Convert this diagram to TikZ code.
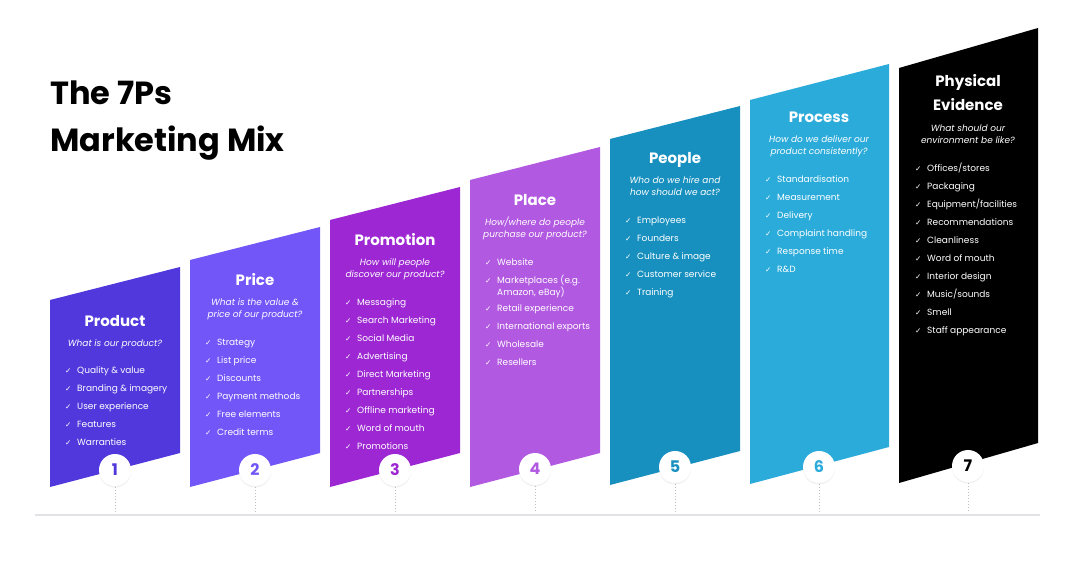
\documentclass[tikz,border=0pt]{standalone}
\usepackage{fontspec}
\setmainfont{Poppins}
\newfontfamily\checkfont{DejaVu Sans}
\usetikzlibrary{shadows}
\definecolor{mixproduct}{HTML}{5038DC}
\definecolor{mixprice}{HTML}{7256F8}
\definecolor{mixpromo}{HTML}{9C27D3}
\definecolor{mixplace}{HTML}{B259E1}
\definecolor{mixpeople}{HTML}{1790BF}
\definecolor{mixprocess}{HTML}{2BABDA}
\definecolor{mixevidence}{HTML}{000000}
\definecolor{mixground}{HTML}{E2E2E6}
\newcommand{\ck}{\makebox[12pt][l]{\checkfont\fontsize{7.5}{7.5}\selectfont ✓}}

\begin{document}
\begin{tikzpicture}[
  x=1pt,
  y=-1pt,
  every node/.style={inner sep=0pt},
  % multi-line nodes: the base anchor sits on the LAST line
  headline/.style={font=\fontsize{32}{47}\selectfont\bfseries, text=black,
                   align=left, anchor=base west},
  ptitle/.style={font=\fontsize{15}{24}\selectfont\bfseries, text=white,
                 align=center, anchor=base},
  pquestion/.style={font=\fontsize{9}{12}\selectfont\itshape, text=white,
                    align=center, anchor=base},
  plist/.style={font=\fontsize{9}{12}\selectfont, text=white,
                align=left, anchor=base west},
  numdot/.style={circle, fill=white, minimum size=32pt,
                 font=\fontsize{16}{16}\selectfont\bfseries,
                 drop shadow={opacity=0.12, shadow xshift=0pt, shadow yshift=-1.5pt}},
  stem/.style={draw=black!25, line width=1pt, dotted},
  ground/.style={draw=mixground, line width=2pt}
]
  \useasboundingbox (0,0) rectangle (1083,560);

  % ---- ground line ----
  \draw[ground] (35,515) -- (1040,515);

  % ---- the seven slanted panels ----
  \foreach \l/\r/\tl/\tr/\bl/\br/\c in {
      50/180/300/267/487/453/mixproduct,
      190/320/260/227/487/453/mixprice,
      330/460/220/187/487/453/mixpromo,
      470/600/180/147/487/453/mixplace,
      610/740/139/106/485/451/mixpeople,
      750/889/100/64/484/447/mixprocess,
      899/1038/68/28/483/443/mixevidence}
    \fill[\c] (\l,\tl) -- (\r,\tr) -- (\r,\br) -- (\l,\bl) -- cycle;

  % ---- heading ----
  \node[headline] (heading) at (50,151) {The 7Ps\\Marketing Mix};

  % ---- 1 product ----
  \node[ptitle] (t1) at (115,326) {Product};
  \node[pquestion] (q1) at (115,346) {What is our product?};
  \node[plist] (l1) at (65,445) {\ck Quality \& value\\[6pt]\ck Branding \& imagery\\[6pt]%
    \ck User experience\\[6pt]\ck Features\\[6pt]\ck Warranties};

  % ---- 2 price ----
  \node[ptitle] (t2) at (255,285) {Price};
  \node[pquestion] (q2) at (255,317) {What is the value \&\\price of our product?};
  \node[plist] (l2) at (205,435) {\ck Strategy\\[6pt]\ck List price\\[6pt]\ck Discounts\\[6pt]%
    \ck Payment methods\\[6pt]\ck Free elements\\[6pt]\ck Credit terms};

  % ---- 3 promotion ----
  \node[ptitle] (t3) at (395,245) {Promotion};
  \node[pquestion] (q3) at (395,277) {How will people\\discover our product?};
  \node[plist] (l3) at (345,449) {\ck Messaging\\[6pt]\ck Search Marketing\\[6pt]%
    \ck Social Media\\[6pt]\ck Advertising\\[6pt]\ck Direct Marketing\\[6pt]%
    \ck Partnerships\\[6pt]\ck Offline marketing\\[6pt]\ck Word of mouth\\[6pt]\ck Promotions};

  % ---- 4 place ----
  \node[ptitle] (t4) at (535,205) {Place};
  \node[pquestion] (q4) at (535,237) {How/where do people\\purchase our product?};
  \node[plist] (l4) at (485,365) {\ck Website\\[6pt]\ck Marketplaces (e.g.\\%
    \phantom{\ck}Amazon, eBay)\\[4pt]\ck Retail experience\\[6pt]%
    \ck International exports\\[6pt]\ck Wholesale\\[6pt]\ck Resellers};

  % ---- 5 people ----
  \node[ptitle] (t5) at (675,163) {People};
  \node[pquestion] (q5) at (675,195) {Who do we hire and\\how should we act?};
  \node[plist] (l5) at (625,295) {\ck Employees\\[6pt]\ck Founders\\[6pt]%
    \ck Culture \& image\\[6pt]\ck Customer service\\[6pt]\ck Training};

  % ---- 6 process ----
  \node[ptitle] (t6) at (819,122) {Process};
  \node[pquestion] (q6) at (819,154) {How do we deliver our\\product consistently?};
  \node[plist] (l6) at (765,272) {\ck Standardisation\\[6pt]\ck Measurement\\[6pt]%
    \ck Delivery\\[6pt]\ck Complaint handling\\[6pt]\ck Response time\\[6pt]\ck R\&D};

  % ---- 7 physical evidence ----
  \node[ptitle] (t7) at (968,110) {Physical\\Evidence};
  \node[pquestion] (q7) at (968,143) {What should our\\environment be like?};
  \node[plist] (l7) at (915,333) {\ck Offices/stores\\[6pt]\ck Packaging\\[6pt]%
    \ck Equipment/facilities\\[6pt]\ck Recommendations\\[6pt]\ck Cleanliness\\[6pt]%
    \ck Word of mouth\\[6pt]\ck Interior design\\[6pt]\ck Music/sounds\\[6pt]%
    \ck Smell\\[6pt]\ck Staff appearance};

  % ---- numbered markers with dotted stems to the ground line ----
  \foreach \x/\y/\n/\c in {115/470/1/mixproduct, 255/470/2/mixprice,
      395/470/3/mixpromo, 535/469/4/mixplace, 675/467/5/mixpeople,
      819/467/6/mixprocess, 968/466/7/mixevidence} {
    \coordinate (g\n) at (\x,512);
    \draw[stem] (\x,\y+17) -- (g\n);
    \node[numdot, text=\c] (n\n) at (\x,\y) {\n};
  }
\end{tikzpicture}
\end{document}
